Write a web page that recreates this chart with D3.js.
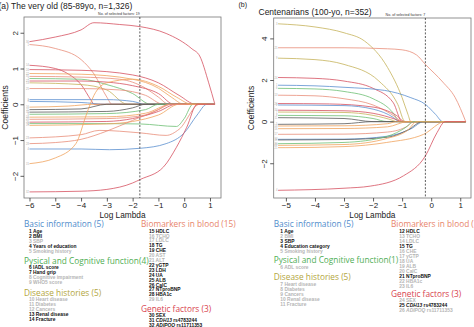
<!DOCTYPE html>
<html>
<head>
<meta charset="utf-8">
<script src="https://cdn.jsdelivr.net/npm/d3@7"></script>
<style>
  body { margin: 0; background: #fff; }
  svg { display: block; }
</style>
</head>
<body>
<svg id="chart" width="474" height="327"></svg>
<script>
// line colours, one per group of factors
const colors = {
  blue: '#5b8fcf',
  green: '#6dbf73',
  olive: '#c5b25a',
  orange: '#f0a35e',
  salmon: '#e98e7a',
  red: '#d65261',
  dark: '#5a5a5a'
};

// (a) the very old: coefficient paths, [log lambda, coefficient]
const lmaxA = 1.19;
const seriesA = [
  { v: 30, c: 'red',    pts: [[-6, 1.75], [-5, 1.88], [-4, 2.08], [-3.5, 2.28], [-2.5, 2.23], [-1.7, 2.17], [-0.7, 1.98], [0.3, 1.55], [0.6, 1.35], [0.95, 0.6], [1.19, 0]] },
  { v: 1,  c: 'salmon', pts: [[-6, 1.67], [-5, 1.56], [-4, 1.25], [-3.5, 0.85], [-3, 0.2], [-2.8, 0]] },
  { v: 14, c: 'red',    pts: [[-6, 1.09], [-5, 1.0], [-4.5, 0.85], [-4, 0.55], [-3.6, 0.1], [-3.5, 0]] },
  { v: 24, c: 'red',    pts: [[-6, 0.97], [-4, 0.95], [-2, 0.82], [-1, 0.6], [-0.2, 0.25], [0.45, 0]] },
  { v: 22, c: 'orange', pts: [[-6, 0.86], [-4, 0.84], [-2, 0.7], [-1, 0.45], [-0.5, 0.2], [0, 0]] },
  { v: 31, c: 'salmon', pts: [[-6, 0.78], [-4, 0.76], [-2.5, 0.7], [-1.5, 0.45], [-1, 0.2], [-0.6, 0]] },
  { v: 7,  c: 'green',  pts: [[-6, 0.72], [-4, 0.7], [-3, 0.55], [-2, 0.3], [-1.3, 0]] },
  { v: 27, c: 'red',    pts: [[-6, 0.65], [-4, 0.65], [-3, 0.62], [-2, 0.52], [-1, 0.3], [-0.4, 0]] },
  { v: 13, c: 'olive',  pts: [[-6, 0.6], [-4, 0.55], [-3, 0.4], [-2.2, 0]] },
  { v: 25, c: 'salmon', pts: [[-6, 0.44], [-4, 0.44], [-2.5, 0.4], [-1.5, 0.25], [-0.8, 0]] },
  { v: 2,  c: 'blue',   pts: [[-6, 0.13], [-3, 0.13], [-2, 0.08], [-1.5, 0]] },
  { v: 3,  c: 'blue',   pts: [[-6, 0.08], [-4, 0.05], [-3, 0]] },
  { v: 16, c: 'orange', pts: [[-6, -0.08], [-4.5, -0.05], [-3.5, 0]] },
  { v: 11, c: 'dark',   pts: [[-6, -0.15], [-4, -0.13], [-3, 0]] },
  { v: 10, c: 'dark',   pts: [[-6, -0.22], [-3, -0.2], [-2, -0.1], [-1.5, 0]] },
  { v: 8,  c: 'green',  pts: [[-6, -0.28], [-3, -0.26], [-1.5, -0.15], [-1, 0]] },
  { v: 18, c: 'orange', pts: [[-6, -0.36], [-3, -0.35], [-1.5, -0.25], [-0.5, 0]] },
  { v: 20, c: 'salmon', pts: [[-6, -0.42], [-3, -0.4], [-1.5, -0.3], [-1, -0.15], [-0.6, 0]] },
  { v: 26, c: 'red',    pts: [[-6, -0.5], [-3, -0.48], [-2, -0.4], [-1, -0.2], [-0.3, 0]] },
  { v: 6,  c: 'green',  pts: [[-6, -0.54], [-3, -0.54], [-1.7, -0.55], [-0.3, -0.62], [0, -0.4], [0.34, 0]] },
  { v: 19, c: 'orange', pts: [[-6, -0.59], [-3, -0.55], [-1, -0.3], [-0.2, 0]] },
  { v: 23, c: 'salmon', pts: [[-6, -0.94], [-4, -0.85], [-3.3, -0.73], [-1.7, -0.8], [-0.7, -0.87], [-0.2, -0.7], [0.6, 0]] },
  { v: 28, c: 'salmon', pts: [[-6, -1.1], [-5, -1.07], [-4, -0.98], [-3, -0.75], [-2, -0.45], [-1, -0.15], [-0.5, 0]] },
  { v: 4,  c: 'blue',   pts: [[-6, -1.25], [-4, -1.25], [-2.9, -1.27], [-1.7, -1.23], [-0.7, -1.1], [0, -0.8], [0.5, -0.3], [0.88, 0]] },
  { v: 15, c: 'orange', pts: [[-6, -1.66], [-5, -1.5], [-4.2, -1.1], [-3.8, -0.3], [-3.5, 0.25], [-3, 0.6], [-2, 0.7], [-1, 0.5], [-0.3, 0.2], [0.3, 0]] },
  { v: 32, c: 'red',    pts: [[-6, -2.45], [-4, -2.43], [-3, -2.38], [-2, -2.2], [-1.7, -2.1], [-0.8, -1.75], [-0.3, -1.2], [0.1, -0.64], [0.5, 0]] }
];

// (b) centenarians
const lmaxB = 1.19;
const seriesB = [
  { v: 3,  c: 'olive',  pts: [[-5.27, 4.7], [-4, 4.55], [-3, 4.27], [-2.3, 3.88], [-1.5, 2.6], [-1.0, 1.15], [-0.8, 0.35], [-0.7, 0]] },
  { v: 25, c: 'salmon', pts: [[-5.27, 3.55], [-3, 3.55], [-1.5, 3.5], [-1.0, 3.45], [-0.5, 3.2], [-0.2, 2.75], [0.4, 1.9], [0.82, 1.17], [1.19, 0]] },
  { v: 9,  c: 'olive',  pts: [[-5.27, 3.05], [-4, 2.98], [-3, 2.75], [-1.8, 1.95], [-1.15, 0.83], [-0.9, 0]] },
  { v: 24, c: 'red',    pts: [[-5.27, 2.12], [-4, 2.08], [-3, 1.95], [-2, 1.6], [-1.3, 0.9], [-1.0, 0]] },
  { v: 1,  c: 'blue',   pts: [[-5.27, 1.75], [-4, 1.72], [-3, 1.65], [-1.6, 1.5], [-0.7, 1.15], [-0.2, 0.83], [0.15, 0.35], [0.4, 0]] },
  { v: 6,  c: 'green',  pts: [[-5.27, 1.6], [-4, 1.57], [-3, 1.45], [-2, 1.1], [-1.3, 0.4], [-1.1, 0]] },
  { v: 13, c: 'salmon', pts: [[-5.27, 1.27], [-4, 1.24], [-3, 1.1], [-2, 0.8], [-1.2, 0.2], [-1.0, 0]] },
  { v: 26, c: 'red',    pts: [[-5.27, 0.87], [-3.5, 0.85], [-2, 0.7], [-1.2, 0.3], [-0.9, 0]] },
  { v: 2,  c: 'blue',   pts: [[-5.27, 0.8], [-3, 0.77], [-2, 0.6], [-1.3, 0.2], [-1.1, 0]] },
  { v: 10, c: 'red',    pts: [[-5.27, 0.55], [-3, 0.52], [-2, 0.4], [-1.2, 0.1], [-1, 0]] },
  { v: 7,  c: 'olive',  pts: [[-5.27, 0.46], [-3, 0.44], [-2, 0.3], [-1.3, 0.05], [-1.2, 0]] },
  { v: 8,  c: 'green',  pts: [[-5.27, 0.3], [-3, 0.28], [-2, 0.15], [-1.5, 0]] },
  { v: 11, c: 'dark',   pts: [[-5.27, 0.19], [-3, 0.15], [-2, 0]] },
  { v: 5,  c: 'dark',   pts: [[-5.27, -0.13], [-3, -0.1], [-2, 0]] },
  { v: 14, c: 'orange', pts: [[-5.27, -0.21], [-3, -0.2], [-1.5, -0.1], [-1.2, 0]] },
  { v: 16, c: 'orange', pts: [[-5.27, -0.34], [-3, -0.33], [-1.5, -0.25], [-0.8, 0]] },
  { v: 17, c: 'salmon', pts: [[-5.27, -0.61], [-3, -0.6], [-1.5, -0.5], [-0.8, -0.2], [-0.6, 0]] },
  { v: 12, c: 'blue',   pts: [[-5.27, -0.85], [-3, -0.84], [-1.5, -0.7], [-0.7, -0.35], [-0.25, 0]] },
  { v: 19, c: 'dark',   pts: [[-5.27, -0.88], [-3, -0.86], [-1.5, -0.75], [-0.8, -0.4], [-0.3, 0]] },
  { v: 20, c: 'green',  pts: [[-5.27, -1.06], [-3, -1.0], [-1.5, -0.7], [-0.9, -0.3], [-0.6, 0]] },
  { v: 22, c: 'orange', pts: [[-5.27, -1.14], [-3, -1.1], [-1.5, -0.8], [-0.8, -0.4], [-0.5, 0]] },
  { v: 21, c: 'orange', pts: [[-5.27, -1.25], [-5, -1.25], [-3, -1.2], [-1.53, -1.0], [-0.26, -0.61], [0.48, 0]] },
  { v: 4,  c: 'red',    pts: [[-5.27, -3.3], [-3, -3.2], [-2.1, -3.1], [-0.95, -2.6], [-0.2, -1.65], [0.2, -0.53], [0.48, 0]] }
];

const xTicksA = [-6, -5, -4, -3, -2, -1, 0, 1];
const yTicksA = [-2, -1, 0, 1, 2];
const xTicksB = [-5, -4, -3, -2, -1, 0, 1];
const yTicksB = [-2, 0, 2, 4];

// legend text: [label, selected?]
const basicA = [['1 Age', 1], ['2 BMI', 1], ['3 SBP', 0], ['4 Years of education', 1], ['5 Smoking history', 0]];
const physA = [['6 IADL score', 1], ['7 Hand grip', 1], ['8 Cognitive impairment', 0], ['9 WHO5 score', 0]];
const diseaseA = [['10 Heart disease', 0], ['11 Diabetes', 0], ['12 Cancers', 0], ['13 Renal disease', 1], ['14 Fracture', 1]];
const bioA = [['15 HDLC', 1], ['16 TCHO', 0], ['17 LDLC', 0], ['18 TG', 1], ['19 CHE', 1], ['20 AST', 0], ['21 ALT', 0],
  ['22 γGTP', 1], ['23 LDH', 1], ['24 UA', 1], ['25 ALB', 1], ['26 CalC', 1], ['27 NTproBNP', 1], ['28 HBA1c', 1], ['29 IL6', 0]];
const geneA = [['30 SEX', 1], ['31 |CDH13| rs4783244', 1], ['32 |ADIPOQ| rs11711353', 1]];

const basicB = [['1 Age', 1], ['2 BMI', 0], ['3 SBP', 1], ['4 Education category', 1], ['5 Smoking history', 0]];
const physB = [['6 ADL score', 0]];
const diseaseB = [['7 Heart disease', 0], ['8 Diabetes', 0], ['9 Cancers', 0], ['10 Renal disease', 0], ['11 Fracture', 0]];
const bioB = [['12 HDLC', 1], ['13 TCHO', 0], ['14 LDLC', 0], ['15 TG', 1], ['16 CHE', 0], ['17 γGTP', 0], ['18 UA', 0],
  ['19 ALB', 0], ['20 CalC', 0], ['21 NTproBNP', 1], ['22 HBA1c', 0], ['23 IL6', 0]];
const geneB = [['24 SEX', 0], ['25 |CDH13| rs4783244', 1], ['26 |ADIPOQ| rs11711353', 0]];

const headColors = { basic: '#4f8ccc', phys: '#4fae55', disease: '#b3a640', bio: '#e8846a', gene: '#d8434e' };

const svg = d3.select('#chart');

function drawPanel(o) {
  const x = d3.scaleLinear().domain(o.xd).range([o.left, o.right]);
  const y = d3.scaleLinear().domain(o.yd).range([o.bottom, o.top]);
  const g = svg.append('g');

  const line = d3.line().x(d => x(d[0])).y(d => y(d[1])).curve(d3.curveMonotoneX);
  g.append('g').selectAll('path')
    .data(o.series)
    .enter().append('path')
    .attr('d', s => line(s.pts.concat([[o.lmax, 0]])))
    .attr('fill', 'none')
    .attr('stroke', s => colors[s.c])
    .attr('stroke-width', 0.8);

  // variable numbers at the left ends
  g.append('g').selectAll('text')
    .data(o.series)
    .enter().append('text')
    .attr('x', s => x(s.pts[0][0]) - 0.6)
    .attr('y', s => y(s.pts[0][1]) + 1)
    .attr('text-anchor', 'end')
    .style('font', '2.6px "Liberation Sans"')
    .attr('fill', '#aaa')
    .text(s => s.v);

  // box
  g.append('rect')
    .attr('x', o.left).attr('y', o.top)
    .attr('width', o.right - o.left).attr('height', o.bottom - o.top)
    .attr('fill', 'none').attr('stroke', '#777').attr('stroke-width', 0.8);

  const ax = g.append('g').attr('transform', `translate(0,${o.bottom})`)
    .call(d3.axisBottom(x).tickValues(o.xt).tickSize(3.5).tickPadding(1.2).tickFormat(d => d < 0 ? '−' + (-d) : d));
  ax.select('.domain').remove();
  ax.selectAll('line').attr('stroke', '#333').attr('stroke-width', 0.8);
  ax.selectAll('text').style('font', '8px "Liberation Sans"').attr('fill', '#222');

  const ay = g.append('g').attr('transform', `translate(${o.left},0)`)
    .call(d3.axisLeft(y).tickValues(o.yt).tickSize(3.5).tickFormat(d => d < 0 ? '−' + (-d) : d));
  ay.select('.domain').remove();
  ay.selectAll('line').attr('stroke', '#333').attr('stroke-width', 0.8);
  ay.selectAll('text')
    .attr('x', null).attr('dy', null)
    .attr('text-anchor', 'middle')
    .attr('transform', 'translate(-6.5,0) rotate(-90)')
    .style('font', '8px "Liberation Sans"').attr('fill', '#222');

  // selected lambda
  g.append('line')
    .attr('x1', x(o.cut)).attr('x2', x(o.cut))
    .attr('y1', o.top).attr('y2', o.bottom)
    .attr('stroke', '#333').attr('stroke-width', 0.8).attr('stroke-dasharray', '2,1.6');
  g.append('text')
    .attr('x', x(o.cut)).attr('y', o.top - 2)
    .attr('text-anchor', 'end')
    .style('font', '3.6px "Liberation Sans"').attr('fill', '#333')
    .text('No. of selected factors: ' + o.nsel);

  g.append('text')
    .attr('x', (o.left + o.right) / 2).attr('y', 217.5)
    .attr('text-anchor', 'middle')
    .style('font', '8.3px "Liberation Sans"').attr('fill', '#222')
    .text('Log Lambda');
  g.append('text')
    .attr('transform', `translate(${o.ylabX},${(o.top + o.bottom) / 2}) rotate(-90)`)
    .attr('text-anchor', 'middle')
    .style('font', '8.5px "Liberation Sans"').attr('fill', '#222')
    .text('Coefficients');
}

drawPanel({ series: seriesA, lmax: lmaxA, left: 24, right: 221, top: 17, bottom: 198,
  xd: [-6.213, 1.427], yd: [-2.62, 2.44], xt: xTicksA, yt: yTicksA, cut: -1.72, nsel: 19, ylabX: 7.5 });
drawPanel({ series: seriesB, lmax: lmaxB, left: 273.7, right: 471, top: 18, bottom: 198,
  xd: [-5.42, 1.37], yd: [-3.67, 4.98], xt: xTicksB, yt: yTicksB, cut: -0.2, nsel: 7, ylabX: 254 });

// titles
svg.append('text').attr('x', -1.5).attr('y', 8.5)
  .style('font', '8.5px "Liberation Sans"').attr('fill', '#222')
  .text('(a)  The very old (85-89yo, n=1,326)');
svg.append('text').attr('x', 238.5).attr('y', 7)
  .style('font', '7px "Liberation Sans"').attr('fill', '#222')
  .text('(b)');
svg.append('text').attr('x', 258.5).attr('y', 15)
  .style('font', '8.5px "Liberation Sans"').attr('fill', '#222')
  .text('Centenarians (100-yo, n=352)');

// legend blocks
function legendBlock(hx, ix, hy, title, color, items, step) {
  svg.append('text').attr('x', hx).attr('y', hy)
    .style('font', '8.3px "Open Sans"').attr('fill', color)
    .text(title);
  items.forEach((it, i) => {
    const t = svg.append('text').attr('x', ix).attr('y', hy + 5.6 + i * (step || 5.0))
      .style('font', 'bold 4.9px "Liberation Sans"')
      .attr('fill', it[1] ? '#111' : '#b5b5b5');
    it[0].split('|').forEach((part, k) => {
      t.append('tspan').style('font-style', k % 2 ? 'italic' : 'normal').text(part);
    });
  });
}

legendBlock(24, 29, 227, 'Basic information (5)', headColors.basic, basicA);
legendBlock(24, 29, 263.5, 'Pysical and Cognitive function(4)', headColors.phys, physA);
legendBlock(24, 29, 295.5, 'Disease histories (5)', headColors.disease, diseaseA);
legendBlock(141, 149, 227, 'Biomarkers in blood (15)', headColors.bio, bioA, 4.9);
legendBlock(141, 149, 311.5, 'Genetic factors (3)', headColors.gene, geneA);

legendBlock(273.7, 280.3, 227, 'Basic information (5)', headColors.basic, basicB);
legendBlock(273.7, 280.3, 263, 'Pysical and Cognitive function(1)', headColors.phys, physB);
legendBlock(273.7, 280.3, 280, 'Disease histories (5)', headColors.disease, diseaseB);
legendBlock(391, 399.3, 227, 'Biomarkers in blood (12)', headColors.bio, bioB);
legendBlock(391, 399.3, 296.5, 'Genetic factors (3)', headColors.gene, geneB);
</script>
</body>
</html>
